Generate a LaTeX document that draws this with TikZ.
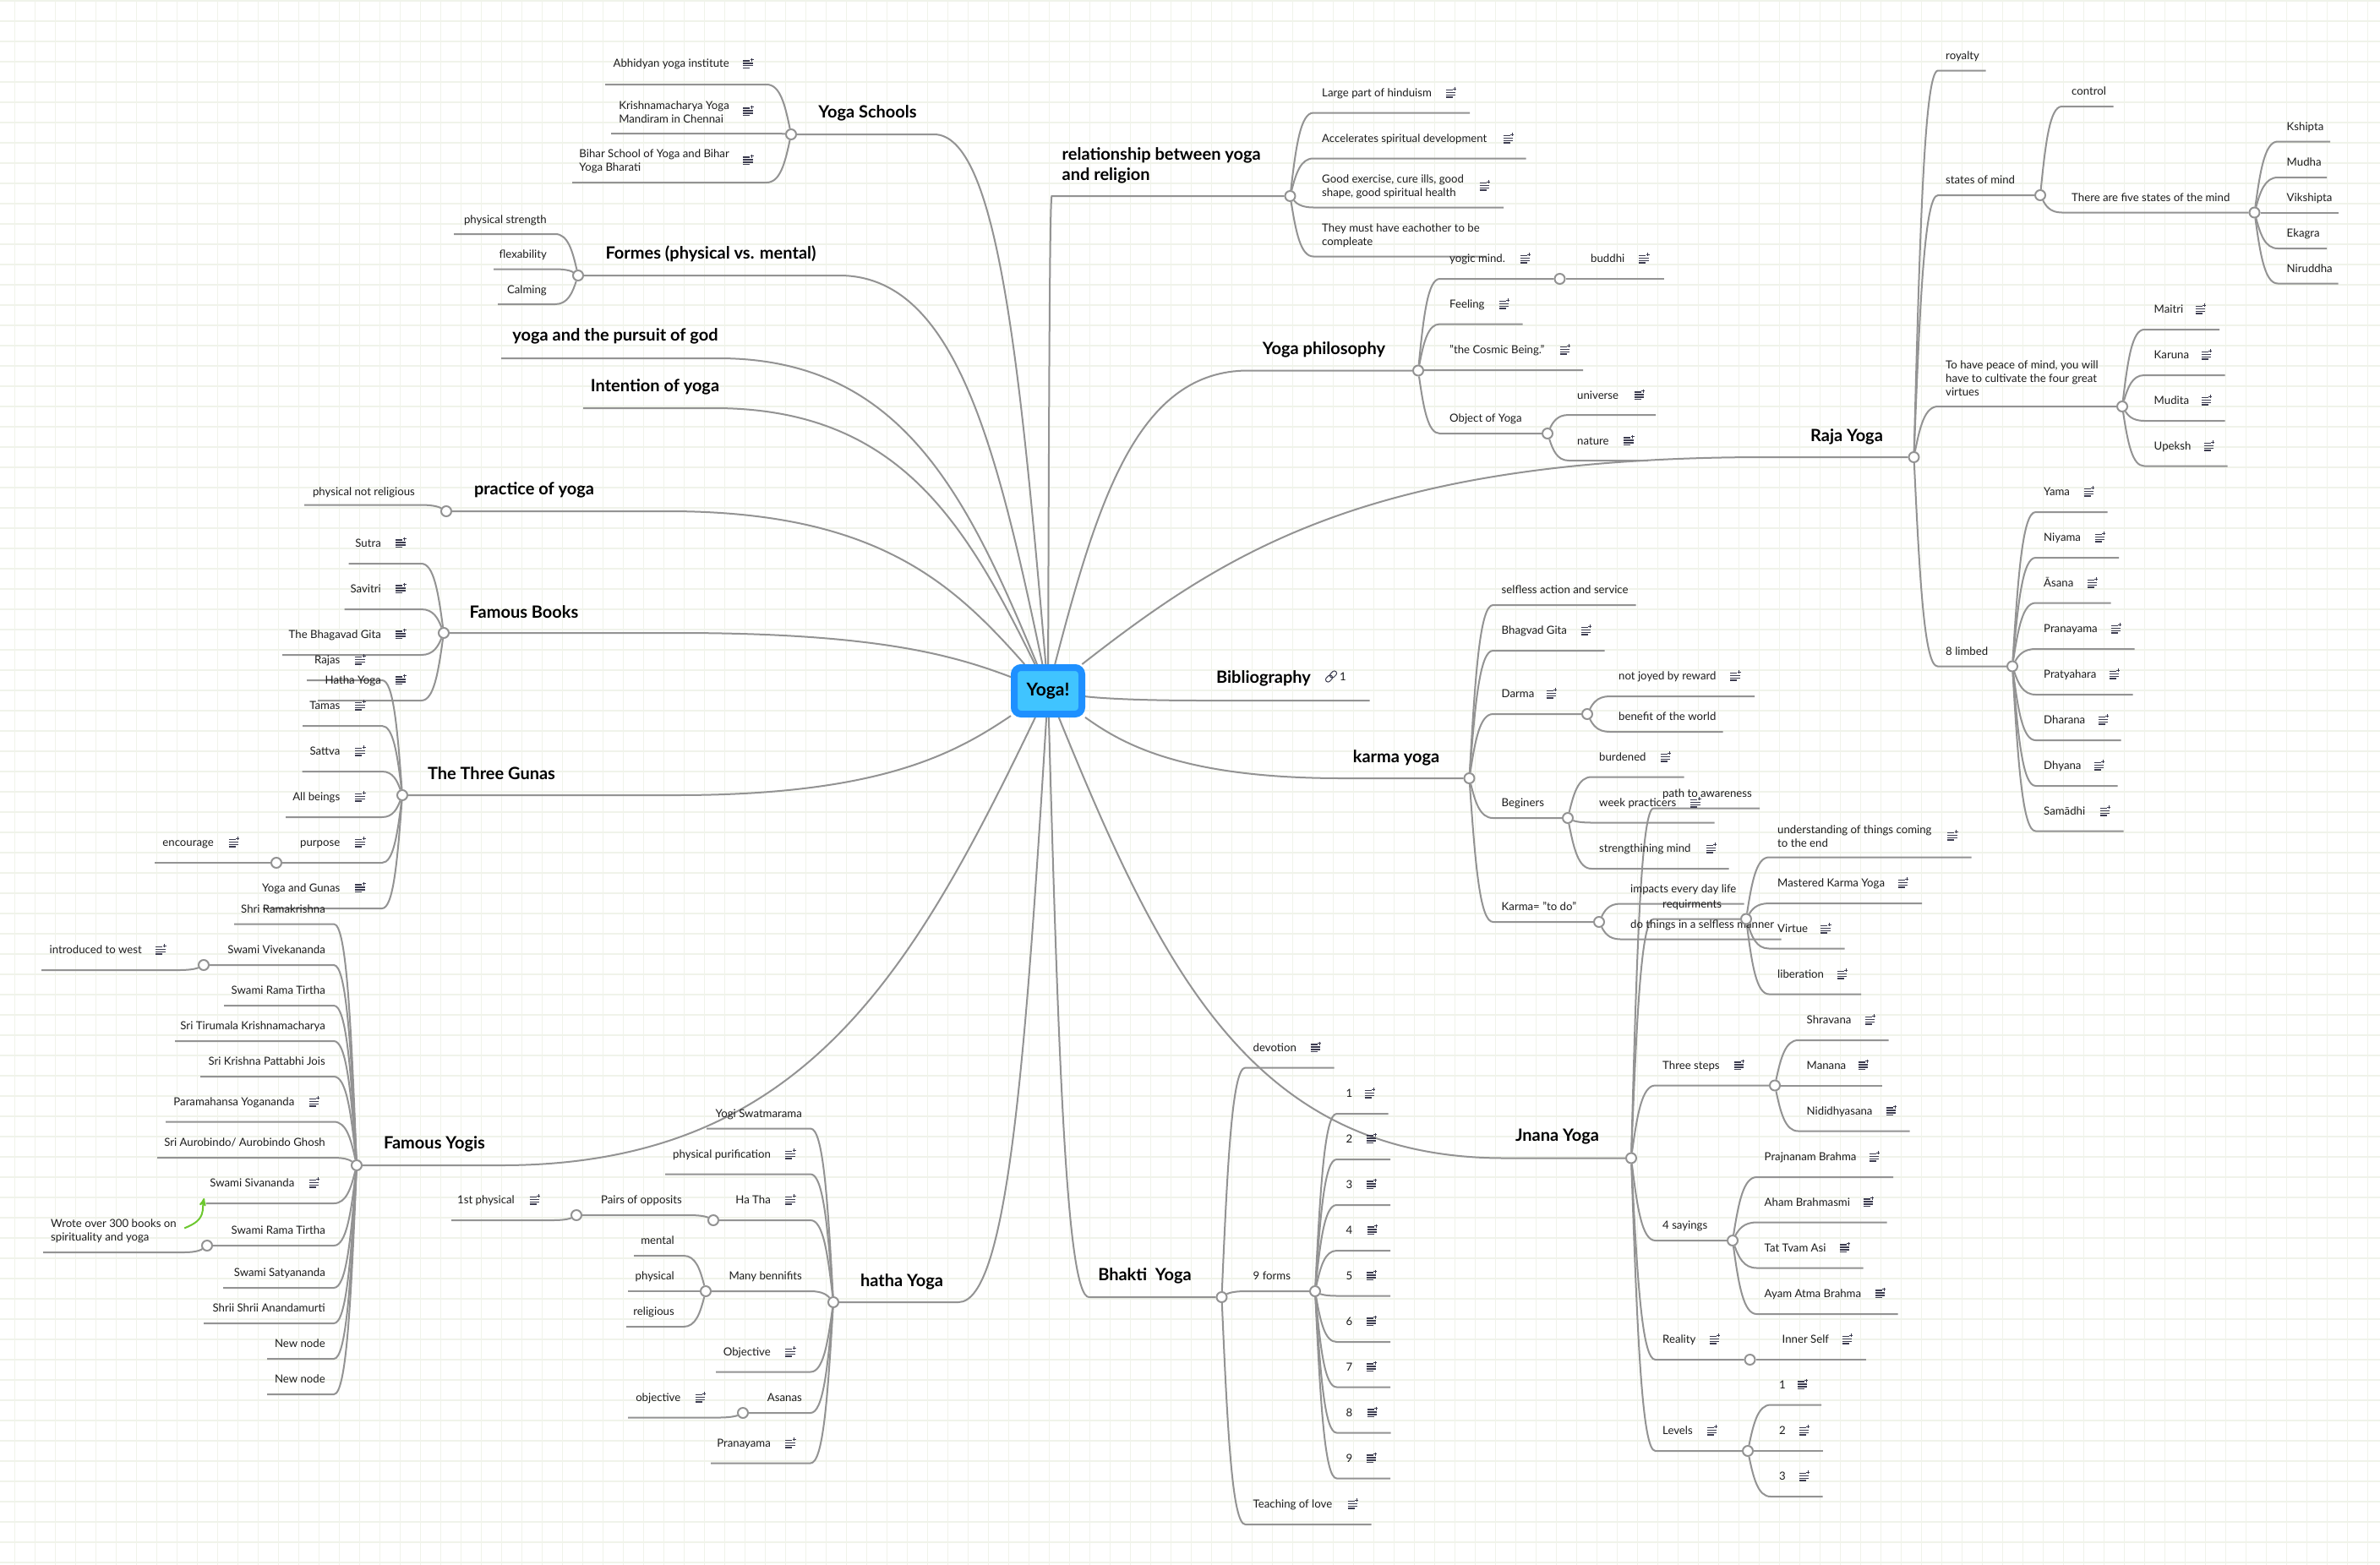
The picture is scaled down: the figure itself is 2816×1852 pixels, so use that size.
\documentclass[tikz,border=0pt]{standalone}
\usepackage{fontspec}
\setmainfont{Lato}
\usepackage{xcolor}
\usetikzlibrary{arrows}
\usetikzlibrary{calc}
\definecolor{wirecol}{HTML}{939393}
\definecolor{gridcol}{HTML}{F0F3EA}
\definecolor{inkcol}{HTML}{1C1C1C}
\definecolor{iconcol}{HTML}{3B3B4F}
\definecolor{rootfill}{HTML}{40C4FF}
\definecolor{rootline}{HTML}{1E90FF}
\definecolor{linkcol}{HTML}{6CC72E}
\pgfdeclarelayer{paper}
\pgfdeclarelayer{wires}
\pgfsetlayers{paper,wires,main}
\tikzset{
	root/.style={rectangle,rounded corners=8pt,draw=rootline,fill=rootfill,line width=8pt,minimum width=80pt,minimum height=55pt,font=\fontsize{21}{24}\selectfont\bfseries},
	head/.style={inner sep=0pt,align=left,text=black,yshift=-1.5pt,font=\fontsize{20}{24}\selectfont\bfseries},
	leaf/.style={inner sep=0pt,align=left,text=inkcol,font=\fontsize{13.2}{16}\selectfont,text height=11.5pt,text depth=1.5pt},
	block/.style={text height=,text depth=,yshift=-1.5pt},
	lleaf/.style={leaf,anchor=east},
	rleaf/.style={leaf,anchor=west},
	junction/.style={circle,draw=wirecol,fill=white,line width=2pt,inner sep=0pt,minimum size=12pt},
	wire/.style={draw=wirecol,line width=2pt,to path={
		let \p1=(\tikztostart),\p2=(\tikztotarget) in
		.. controls ({\x1+.25*(\x2-\x1)},{\y1+.6*(\y2-\y1)}) and ({\x1+.45*(\x2-\x1)},\y2) .. (\tikztotarget)}},
	noteicon/.pic={
		\draw [iconcol,line width=1.4pt] (-6,-3) -- (2,-3) (-6,0) -- (5.5,0) (-6,2.8) -- (5.5,2.8) (-6,5.6) -- (2,5.6);
		\draw [iconcol,line width=1.2pt] (2.7,-4.4) -- (6.7,-4.4) (4.7,-6.4) -- (4.7,-2.4);
	},
	linkicon/.pic={
		\draw [iconcol,line width=1pt,rotate=45,rounded corners=2.5pt] (-8,-2.8) rectangle (1,2.8) (-1,-2.8) rectangle (8,2.8);
	}
}
\begin{document}
\begin{tikzpicture}[x=1pt,y=-1pt,>=stealth']
	\useasboundingbox (0,0) rectangle (2816,1852);
	\begin{pgfonlayer}{paper}
		\fill [white] (0,0) rectangle (2816,1852);
		\draw [gridcol,line width=1.2pt,step=24pt,xshift=17.5pt,yshift=-1pt] (-24,1860) grid (2808,-24);
	\end{pgfonlayer}
	\node [root] (yoga) at (1240,817.5) {Yoga!};
	\node [head] (schools) at (1026.5,132) {Yoga Schools};
	\node [junction] (jschools) at (936,159) {};
	\node [lleaf] (abhidyan) at (863,75) {Abhidyan yoga institute}; \pic at (885,75) {noteicon};
	\node [lleaf,block] (krishnam) at (863,131) {Krishnamacharya Yoga\\Mandiram in Chennai}; \pic at (885,131) {noteicon};
	\node [lleaf,block] (bihar) at (863,189) {Bihar School of Yoga and Bihar\\Yoga Bharati}; \pic at (885,189) {noteicon};
	\node [head] (formes) at (841,299) {Formes (physical vs. mental)};
	\node [junction] (jformes) at (684,326) {};
	\node [lleaf] (strength) at (647,259) {physical strength};
	\node [lleaf] (flex) at (647,300.5) {flexability};
	\node [lleaf] (calming) at (647,342) {Calming};
	\node [head] (pursuit) at (728,396) {yoga and the pursuit of god};
	\node [head] (intention) at (775,456) {Intention of yoga};
	\node [head] (practice) at (632,578) {practice of yoga};
	\node [junction] (jpractice) at (528,605) {};
	\node [lleaf] (notrelig) at (491,581) {physical not religious};
	\node [head] (books) at (620,723) {Famous Books};
	\node [junction] (jbooks) at (525,749) {};
	\node [lleaf] (sutra) at (451,642) {Sutra}; \pic at (474,642) {noteicon};
	\node [lleaf] (savitri) at (451,696) {Savitri}; \pic at (474,696) {noteicon};
	\node [lleaf] (gita) at (451,750) {The Bhagavad Gita}; \pic at (474,750) {noteicon};
	\node [lleaf] (hathab) at (451,804) {Hatha Yoga}; \pic at (474,804) {noteicon};
	\node [head] (gunas) at (581.5,914) {The Three Gunas};
	\node [junction] (jgunas) at (476,941) {};
	\node [lleaf] (rajas) at (402.5,780.5) {Rajas}; \pic at (426,780.5) {noteicon};
	\node [lleaf] (tamas) at (402.5,834.5) {Tamas}; \pic at (426,834.5) {noteicon};
	\node [lleaf] (sattva) at (402.5,888.5) {Sattva}; \pic at (426,888.5) {noteicon};
	\node [lleaf] (beings) at (402.5,942.5) {All beings}; \pic at (426,942.5) {noteicon};
	\node [lleaf] (purpose) at (402.5,996.5) {purpose}; \pic at (426,996.5) {noteicon};
	\node [junction] (jpurpose) at (327,1021) {};
	\node [lleaf] (encourage) at (253,996.5) {encourage}; \pic at (276.5,996.5) {noteicon};
	\node [lleaf] (yguna) at (402.5,1050) {Yoga and Gunas}; \pic at (426,1050) {noteicon};
	\node [head] (yogis) at (514,1352) {Famous Yogis};
	\node [junction] (jyogis) at (422,1379) {};
	\node [lleaf] (ramak) at (385,1075.5) {Shri Ramakrishna};
	\node [lleaf] (vivek) at (385,1123.5) {Swami Vivekananda};
	\node [junction] (jvivek) at (241,1142) {};
	\node [lleaf] (west) at (168,1123.5) {introduced to west}; \pic at (190,1123.5) {noteicon};
	\node [lleaf] (rama) at (385,1171.5) {Swami Rama Tirtha};
	\node [lleaf] (tiru) at (385,1213.5) {Sri Tirumala Krishnamacharya};
	\node [lleaf] (jois) at (385,1255.5) {Sri Krishna Pattabhi Jois};
	\node [lleaf] (parama) at (348.5,1303.5) {Paramahansa Yogananda}; \pic at (371.5,1303.5) {noteicon};
	\node [lleaf] (auro) at (385,1351.5) {Sri Aurobindo/ Aurobindo Ghosh};
	\node [lleaf] (siva) at (348.5,1399.5) {Swami Sivananda}; \pic at (371.5,1399.5) {noteicon};
	\node [lleaf] (ramab) at (385,1455.5) {Swami Rama Tirtha};
	\node [junction] (jramab) at (245,1474) {};
	\node [rleaf,block] (wrote) at (60,1455.5) {Wrote over 300 books on\\spirituality and yoga};
	\node [lleaf] (satya) at (385,1505) {Swami Satyananda};
	\node [lleaf] (ananda) at (385,1547) {Shrii Shrii Anandamurti};
	\node [lleaf] (newa) at (385,1589) {New node};
	\node [lleaf] (newb) at (385,1631) {New node};
	\node [head] (hatha) at (1067,1515) {hatha Yoga};
	\node [junction] (jhatha) at (986,1541) {};
	\node [lleaf] (swat) at (949,1317) {Yogi Swatmarama};
	\node [lleaf] (purif) at (912,1365.5) {physical purification}; \pic at (935,1365.5) {noteicon};
	\node [lleaf] (hatht) at (912,1419.5) {Ha Tha}; \pic at (935,1419.5) {noteicon};
	\node [junction] (jhatht) at (844,1444) {};
	\node [lleaf] (pairs) at (807,1419.5) {Pairs of opposits};
	\node [junction] (jpairs) at (682,1438) {};
	\node [lleaf] (first) at (609,1419.5) {1st physical}; \pic at (632.5,1419.5) {noteicon};
	\node [lleaf] (bennif) at (949,1509.5) {Many bennifits};
	\node [junction] (jbennif) at (835,1528) {};
	\node [lleaf] (mental) at (798,1467.5) {mental};
	\node [lleaf] (physic) at (798,1509.5) {physical};
	\node [lleaf] (relig) at (798,1551.5) {religious};
	\node [lleaf] (object) at (912,1599.5) {Objective}; \pic at (935,1599.5) {noteicon};
	\node [lleaf] (asanas) at (949,1653.5) {Asanas};
	\node [junction] (jasanas) at (879,1672) {};
	\node [lleaf] (objb) at (805.5,1653.5) {objective}; \pic at (828.5,1653.5) {noteicon};
	\node [lleaf] (prana) at (912,1707.5) {Pranayama}; \pic at (935,1707.5) {noteicon};
	\node [head,anchor=west] (relat) at (1256.5,194.5) {relationship between yoga\\and religion};
	\node [junction] (jrelat) at (1526.5,232) {};
	\node [rleaf] (hindu) at (1564,109.5) {Large part of hinduism}; \pic at (1716.5,109.5) {noteicon};
	\node [rleaf] (accel) at (1564,163.5) {Accelerates spiritual development}; \pic at (1784.5,163.5) {noteicon};
	\node [rleaf,block] (exerc) at (1564,219.5) {Good exercise, cure ills, good\\shape, good spiritual health}; \pic at (1756.5,219.5) {noteicon};
	\node [rleaf,block] (must) at (1564,277.5) {They must have eachother to be\\compleate};
	\node [head] (philo) at (1566.5,412.5) {Yoga philosophy};
	\node [junction] (jphilo) at (1678,438.5) {};
	\node [rleaf] (yogic) at (1715,305.5) {yogic mind.}; \pic at (1804.5,305.5) {noteicon};
	\node [junction] (jyogic) at (1845.5,330) {};
	\node [rleaf] (buddhi) at (1882,305.5) {buddhi}; \pic at (1945,305.5) {noteicon};
	\node [rleaf] (feeling) at (1715,359.5) {Feeling}; \pic at (1779.5,359.5) {noteicon};
	\node [rleaf] (cosmic) at (1715,413.5) {"the Cosmic Being."}; \pic at (1851.5,413.5) {noteicon};
	\node [rleaf] (objyoga) at (1715,494.5) {Object of Yoga};
	\node [junction] (jobjyoga) at (1831,513) {};
	\node [rleaf] (universe) at (1866,467) {universe}; \pic at (1939.5,467) {noteicon};
	\node [rleaf] (nature) at (1866,521) {nature}; \pic at (1927,521) {noteicon};
	\node [head] (biblio) at (1495,801) {Bibliography};
	\pic at (1575,800.5) {linkicon};
	\node [leaf] (bibnum) at (1589,800.5) {1};
	\node [head] (karma) at (1652,895) {karma yoga};
	\node [junction] (jkarma) at (1738.5,921) {};
	\node [rleaf] (selfless) at (1776.5,697.5) {selfless action and service};
	\node [rleaf] (bhagvad) at (1776.5,745.5) {Bhagvad Gita}; \pic at (1876.5,745.5) {noteicon};
	\node [rleaf] (darma) at (1776.5,820.5) {Darma}; \pic at (1835.5,820.5) {noteicon};
	\node [junction] (jdarma) at (1878,845) {};
	\node [rleaf] (joyed) at (1915,799.5) {not joyed by reward}; \pic at (2053,799.5) {noteicon};
	\node [rleaf] (benefit) at (1915,847.5) {benefit of the world};
	\node [rleaf] (begin) at (1776.5,949.5) {Beginers};
	\node [junction] (jbegin) at (1855,968) {};
	\node [rleaf] (burden) at (1892,895.5) {burdened}; \pic at (1970.5,895.5) {noteicon};
	\node [rleaf] (week) at (1892,949.5) {week practicers}; \pic at (2006,949.5) {noteicon};
	\node [rleaf] (strengthm) at (1892,1003.5) {strengthining mind}; \pic at (2024.5,1003.5) {noteicon};
	\node [rleaf] (todo) at (1776.5,1072.5) {Karma= "to do"};
	\node [junction] (jtodo) at (1892,1091) {};
	\node [rleaf] (impacts) at (1929,1051.5) {impacts every day life};
	\node [rleaf] (dothings) at (1929,1093.5) {do things in a selfless manner};
	\node [head] (jnana) at (1842.5,1344) {Jnana Yoga};
	\node [junction] (jjnana) at (1930,1370.5) {};
	\node [rleaf] (path) at (1967,938.5) {path to awareness};
	\node [rleaf] (requir) at (1967,1069.5) {requirments};
	\node [junction] (jrequir) at (2066,1087.5) {};
	\node [rleaf,block] (underst) at (2103,988.5) {understanding of things coming\\to the end}; \pic at (2310,988.5) {noteicon};
	\node [rleaf] (mastered) at (2103,1044.5) {Mastered Karma Yoga}; \pic at (2251.5,1044.5) {noteicon};
	\node [rleaf] (virtue) at (2103,1098.5) {Virtue}; \pic at (2160,1098.5) {noteicon};
	\node [rleaf] (liberat) at (2103,1152.5) {liberation}; \pic at (2179.5,1152.5) {noteicon};
	\node [rleaf] (three) at (1967,1260) {Three steps}; \pic at (2057.5,1260) {noteicon};
	\node [junction] (jthree) at (2100,1284.5) {};
	\node [rleaf] (shrav) at (2137.5,1206.5) {Shravana}; \pic at (2212.5,1206.5) {noteicon};
	\node [rleaf] (manana) at (2137.5,1260) {Manana}; \pic at (2204.5,1260) {noteicon};
	\node [rleaf] (nidid) at (2137.5,1314) {Nididhyasana}; \pic at (2237.5,1314) {noteicon};
	\node [rleaf] (sayings) at (1967,1449) {4 sayings};
	\node [junction] (jsayings) at (2050,1468) {};
	\node [rleaf] (prajn) at (2087.5,1368.5) {Prajnanam Brahma}; \pic at (2217.5,1368.5) {noteicon};
	\node [rleaf] (aham) at (2087.5,1422) {Aham Brahmasmi}; \pic at (2210.5,1422) {noteicon};
	\node [rleaf] (tvam) at (2087.5,1476) {Tat Tvam Asi}; \pic at (2182.5,1476) {noteicon};
	\node [rleaf] (ayam) at (2087.5,1530) {Ayam Atma Brahma}; \pic at (2224.5,1530) {noteicon};
	\node [rleaf] (reality) at (1967,1584.5) {Reality}; \pic at (2028.5,1584.5) {noteicon};
	\node [junction] (jreality) at (2070.5,1609) {};
	\node [rleaf] (inner) at (2108.5,1584.5) {Inner Self}; \pic at (2185.5,1584.5) {noteicon};
	\node [rleaf] (levels) at (1967,1692.5) {Levels}; \pic at (2025.5,1692.5) {noteicon};
	\node [junction] (jlevels) at (2068,1717) {};
	\node [rleaf] (levela) at (2105,1638) {1}; \pic at (2132.5,1638) {noteicon};
	\node [rleaf] (levelb) at (2105,1692.5) {2}; \pic at (2134.5,1692.5) {noteicon};
	\node [rleaf] (levelc) at (2105,1746.5) {3}; \pic at (2134.5,1746.5) {noteicon};
	\node [head] (bhakti) at (1354.5,1508.5) {Bhakti\ \ Yoga};
	\node [junction] (jbhakti) at (1445.5,1535) {};
	\node [rleaf] (devot) at (1482.5,1239) {devotion}; \pic at (1556.5,1239) {noteicon};
	\node [rleaf] (forms) at (1482.5,1509) {9 forms};
	\node [junction] (jforms) at (1556,1528) {};
	\node [rleaf] (forma) at (1592.5,1293.5) {1}; \pic at (1620.5,1293.5) {noteicon};
	\node [rleaf] (formb) at (1592.5,1347) {2}; \pic at (1622.5,1347) {noteicon};
	\node [rleaf] (formc) at (1592.5,1401) {3}; \pic at (1622.5,1401) {noteicon};
	\node [rleaf] (formd) at (1592.5,1455) {4}; \pic at (1623.5,1455) {noteicon};
	\node [rleaf] (forme) at (1592.5,1509) {5}; \pic at (1622.5,1509) {noteicon};
	\node [rleaf] (formf) at (1592.5,1563) {6}; \pic at (1622.5,1563) {noteicon};
	\node [rleaf] (formg) at (1592.5,1617) {7}; \pic at (1622.5,1617) {noteicon};
	\node [rleaf] (formh) at (1592.5,1671) {8}; \pic at (1623.5,1671) {noteicon};
	\node [rleaf] (formi) at (1592.5,1725) {9}; \pic at (1622.5,1725) {noteicon};
	\node [rleaf] (teach) at (1482.5,1779.5) {Teaching of love}; \pic at (1600.5,1779.5) {noteicon};
	\node [head] (raja) at (2185,515) {Raja Yoga};
	\node [junction] (jraja) at (2264.5,541) {};
	\node [rleaf] (royal) at (2302,65.5) {royalty};
	\node [rleaf] (states) at (2302,212.5) {states of mind};
	\node [junction] (jstates) at (2414,231) {};
	\node [rleaf] (control) at (2451,107.5) {control};
	\node [rleaf] (five) at (2451,233.5) {There are five states of the mind};
	\node [junction] (jfive) at (2667.5,251.5) {};
	\node [rleaf] (kship) at (2705.5,149.5) {Kshipta};
	\node [rleaf] (mudha) at (2705.5,191.5) {Mudha};
	\node [rleaf] (viksh) at (2705.5,233.5) {Vikshipta};
	\node [rleaf] (ekagra) at (2705.5,275.5) {Ekagra};
	\node [rleaf] (nirud) at (2705.5,317.5) {Niruddha};
	\node [rleaf,block] (peace) at (2302,446.5) {To have peace of mind, you will\\have to cultivate the four great\\virtues};
	\node [junction] (jpeace) at (2511,481) {};
	\node [rleaf] (maitri) at (2548.5,365.5) {Maitri}; \pic at (2603.5,365.5) {noteicon};
	\node [rleaf] (karuna) at (2548.5,419.5) {Karuna}; \pic at (2610.5,419.5) {noteicon};
	\node [rleaf] (mudita) at (2548.5,473.5) {Mudita}; \pic at (2610.5,473.5) {noteicon};
	\node [rleaf] (upeksh) at (2548.5,527.5) {Upeksh}; \pic at (2613.5,527.5) {noteicon};
	\node [rleaf] (limbed) at (2302,770) {8 limbed};
	\node [junction] (jlimbed) at (2381,788.5) {};
	\node [rleaf] (yama) at (2418,581.5) {Yama}; \pic at (2471.5,581.5) {noteicon};
	\node [rleaf] (niyama) at (2418,635.5) {Niyama}; \pic at (2484.5,635.5) {noteicon};
	\node [rleaf] (asana) at (2418,689.5) {Āsana}; \pic at (2475.5,689.5) {noteicon};
	\node [rleaf] (pranay) at (2418,743.5) {Pranayama}; \pic at (2503.5,743.5) {noteicon};
	\node [rleaf] (pratya) at (2418,797.5) {Pratyahara}; \pic at (2501.5,797.5) {noteicon};
	\node [rleaf] (dharana) at (2418,851.5) {Dharana}; \pic at (2488.5,851.5) {noteicon};
	\node [rleaf] (dhyana) at (2418,905.5) {Dhyana}; \pic at (2483.5,905.5) {noteicon};
	\node [rleaf] (samadhi) at (2418,959.5) {Samādhi}; \pic at (2490.5,959.5) {noteicon};
	\begin{pgfonlayer}{wires}
		\draw [wire] (yoga) to (1105,159) -- (jschools);
		\draw [wire] (jschools) to (907,100) -- (716,100) coordinate (abhidyanend);
		\draw [wire] (jschools) to (907,158) -- (723,158) coordinate (krishnamend);
		\draw [wire] (jschools) to (907,216) -- (677,216) coordinate (biharend);
		\draw [wire] (yoga) to (993,326) -- (jformes);
		\draw [wire] (jformes) to (657,277) -- (537,277) coordinate (strengthend);
		\draw [wire] (jformes) to (657,318.5) -- (584,318.5) coordinate (flexend);
		\draw [wire] (jformes) to (657,360) -- (589,360) coordinate (calmingend);
		\draw [wire] (yoga) to (850,424) -- (593,424) coordinate (pursuitend);
		\draw [wire] (yoga) to (845,483) -- (690,483) coordinate (intentionend);
		\draw [wire] (yoga) to (790,605) -- (jpractice);
		\draw [wire] (jpractice) to (498,597.5) -- (360,597.5) coordinate (notreligend);
		\draw [wire] (yoga) to (800,749) -- (jbooks);
		\draw [wire] (jbooks) to (498.5,667) -- (412.5,667) coordinate (sutraend);
		\draw [wire] (jbooks) to (498.5,721) -- (407.5,721) coordinate (savitriend);
		\draw [wire] (jbooks) to (498.5,775) -- (334,775) coordinate (gitaend);
		\draw [wire] (jbooks) to (498.5,829) -- (376,829) coordinate (hathabend);
		\draw [wire] (yoga) to (800,941) -- (jgunas);
		\draw [wire] (jgunas) to (452,805) -- (363,805) coordinate (rajasend);
		\draw [wire] (jgunas) to (452,859) -- (358,859) coordinate (tamasend);
		\draw [wire] (jgunas) to (452,913) -- (357.5,913) coordinate (sattvaend);
		\draw [wire] (jgunas) to (452,967) -- (338,967) coordinate (beingsend);
		\draw [wire] (jgunas) to (452,1021) -- (jpurpose);
		\draw [wire] (jpurpose) -- (183,1021) coordinate (encourageend);
		\draw [wire] (jgunas) to (452,1075) -- (311,1075) coordinate (ygunaend);
		\draw [wire] (yoga) to (593,1379) -- (jyogis);
		\draw [wire] (jyogis) to (395,1093.5) -- (277,1093.5) coordinate (ramakend);
		\draw [wire] (jyogis) to (395,1142) -- (jvivek);
		\draw [wire] (jvivek) to (212,1148) -- (49,1148) coordinate (westend);
		\draw [wire] (jyogis) to (395,1190) -- (265,1190) coordinate (ramaend);
		\draw [wire] (jyogis) to (395,1232) -- (207,1232) coordinate (tiruend);
		\draw [wire] (jyogis) to (395,1274) -- (237,1274) coordinate (joisend);
		\draw [wire] (jyogis) to (395,1327.5) -- (196,1327.5) coordinate (paramaend);
		\draw [wire] (jyogis) to (395,1370) -- (186,1370) coordinate (auroend);
		\draw [wire] (jyogis) to (395,1424) -- (243.5,1424) coordinate (sivaend);
		\draw [wire] (jyogis) to (395,1474) -- (jramab);
		\draw [wire] (jramab) to (218,1482) -- (51,1482) coordinate (wroteend);
		\draw [wire] (jyogis) to (395,1524) -- (264,1524) coordinate (satyaend);
		\draw [wire] (jyogis) to (395,1566) -- (241,1566) coordinate (anandaend);
		\draw [wire] (jyogis) to (395,1608) -- (316,1608) coordinate (newaend);
		\draw [wire] (jyogis) to (395,1650) -- (316,1650) coordinate (newbend);
		\draw [wire] (yoga) to (1134,1541) -- (jhatha);
		\draw [wire] (jhatha) to (959,1335.5) -- (836,1335.5) coordinate (swatend);
		\draw [wire] (jhatha) to (959,1389.5) -- (787,1389.5) coordinate (purifend);
		\draw [wire] (jhatha) to (959,1444) -- (jhatht);
		\draw [wire] (jhatht) to (816,1438) -- (jpairs);
		\draw [wire] (jpairs) to (655,1444) -- (534,1444) coordinate (firstend);
		\draw [wire] (jhatha) to (959,1528) -- (jbennif);
		\draw [wire] (jbennif) to (809,1486) -- (750,1486) coordinate (mentalend);
		\draw [wire] (jbennif) -- (742.5,1528) coordinate (physicend);
		\draw [wire] (jbennif) to (809,1570) -- (741,1570) coordinate (religend);
		\draw [wire] (jhatha) to (959,1623.5) -- (847,1623.5) coordinate (objectend);
		\draw [wire] (jhatha) to (959,1672) -- (jasanas);
		\draw [wire] (jasanas) to (850.5,1677.5) -- (743,1677.5) coordinate (objbend);
		\draw [wire] (jhatha) to (959,1731.5) -- (841,1731.5) coordinate (pranaend);
		\draw [wire] (yoga) to (1244.5,232) -- (jrelat);
		\draw [wire] (jrelat) to (1554,133.5) -- (1739,133.5) coordinate (hinduend);
		\draw [wire] (jrelat) to (1554,187.5) -- (1805.5,187.5) coordinate (accelend);
		\draw [wire] (jrelat) to (1554,245.5) -- (1779,245.5) coordinate (exercend);
		\draw [wire] (jrelat) to (1554,303.5) -- (1759,303.5) coordinate (mustend);
		\draw [wire] (yoga) to (1477,438.5) -- (jphilo);
		\draw [wire] (jphilo) to (1703.5,330) -- (jyogic);
		\draw [wire] (jyogic) -- (1968.5,330) coordinate (buddhiend);
		\draw [wire] (jphilo) to (1703.5,383.5) -- (1801.5,383.5) coordinate (feelingend);
		\draw [wire] (jphilo) to (1703.5,438) -- (1873,438) coordinate (cosmicend);
		\draw [wire] (jphilo) to (1703.5,513) -- (jobjyoga);
		\draw [wire] (jobjyoga) to (1856,491) -- (1959,491) coordinate (universeend);
		\draw [wire] (jobjyoga) to (1856,545) -- (1950,545) coordinate (natureend);
		\draw [wire] (yoga) to (1423,829) -- (1620.5,829) coordinate (biblioend);
		\draw [wire] (yoga) to (1588,921) -- (jkarma);
		\draw [wire] (jkarma) to (1766.5,716) -- (1935.5,716) coordinate (selflessend);
		\draw [wire] (jkarma) to (1766.5,770) -- (1898.5,770) coordinate (bhagvadend);
		\draw [wire] (jkarma) to (1766.5,845) -- (jdarma);
		\draw [wire] (jdarma) to (1904.5,824) -- (2076,824) coordinate (joyedend);
		\draw [wire] (jdarma) to (1904.5,866) -- (2038.5,866) coordinate (benefitend);
		\draw [wire] (jkarma) to (1766.5,968) -- (jbegin);
		\draw [wire] (jbegin) to (1883,919.5) -- (1992.5,919.5) coordinate (burdenend);
		\draw [wire] (jbegin) to (1883,973.5) -- (2028.5,973.5) coordinate (weekend);
		\draw [wire] (jbegin) to (1883,1028) -- (2045.5,1028) coordinate (strengthmend);
		\draw [wire] (jkarma) to (1766.5,1091) -- (jtodo);
		\draw [wire] (jtodo) to (1917,1069.5) -- (2063.5,1069.5) coordinate (impactsend);
		\draw [wire] (jtodo) to (1917,1111.5) -- (2107.5,1111.5) coordinate (dothingsend);
		\draw [wire] (yoga) to (1780,1370.5) -- (jjnana);
		\draw [wire] (jjnana) to (1956.5,956.5) -- (2082,956.5) coordinate (pathend);
		\draw [wire] (jjnana) to (1956.5,1087.5) -- (jrequir);
		\draw [wire] (jrequir) to (2093,1014.5) -- (2332.5,1014.5) coordinate (understend);
		\draw [wire] (jrequir) to (2093,1069) -- (2274,1069) coordinate (masteredend);
		\draw [wire] (jrequir) to (2093,1122.5) -- (2182.5,1122.5) coordinate (virtueend);
		\draw [wire] (jrequir) to (2093,1176.5) -- (2202,1176.5) coordinate (liberatend);
		\draw [wire] (jjnana) to (1958.5,1284.5) -- (jthree);
		\draw [wire] (jthree) to (2127.5,1231) -- (2234.5,1231) coordinate (shravend);
		\draw [wire] (jthree) -- (2226.5,1284.5) coordinate (mananaend);
		\draw [wire] (jthree) to (2127.5,1338.5) -- (2259.5,1338.5) coordinate (nididend);
		\draw [wire] (jjnana) to (1958.5,1468) -- (jsayings);
		\draw [wire] (jsayings) to (2078.5,1393) -- (2240,1393) coordinate (prajnend);
		\draw [wire] (jsayings) to (2078.5,1446.5) -- (2232.5,1446.5) coordinate (ahamend);
		\draw [wire] (jsayings) to (2078.5,1500.5) -- (2204.5,1500.5) coordinate (tvamend);
		\draw [wire] (jsayings) to (2078.5,1555) -- (2245.5,1555) coordinate (ayamend);
		\draw [wire] (jjnana) to (1958.5,1609) -- (jreality);
		\draw [wire] (jreality) -- (2207.5,1609) coordinate (innerend);
		\draw [wire] (jjnana) to (1958.5,1717) -- (jlevels);
		\draw [wire] (jlevels) to (2095,1662.5) -- (2155,1662.5) coordinate (levelaend);
		\draw [wire] (jlevels) -- (2156.5,1717) coordinate (levelbend);
		\draw [wire] (jlevels) to (2095,1771) -- (2156.5,1771) coordinate (levelcend);
		\draw [wire] (yoga) to (1288.5,1535) -- (jbhakti);
		\draw [wire] (jbhakti) to (1473.5,1263.5) -- (1578.5,1263.5) coordinate (devotend);
		\draw [wire] (jbhakti) to (1473.5,1528) -- (jforms);
		\draw [wire] (jforms) to (1581.5,1318) -- (1642.5,1318) coordinate (formaend);
		\draw [wire] (jforms) to (1581.5,1372) -- (1645,1372) coordinate (formbend);
		\draw [wire] (jforms) to (1581.5,1426) -- (1645,1426) coordinate (formcend);
		\draw [wire] (jforms) to (1581.5,1480) -- (1645,1480) coordinate (formdend);
		\draw [wire] (jforms) to (1581.5,1533.5) -- (1645,1533.5) coordinate (formeend);
		\draw [wire] (jforms) to (1581.5,1588) -- (1645,1588) coordinate (formfend);
		\draw [wire] (jforms) to (1581.5,1641.5) -- (1645,1641.5) coordinate (formgend);
		\draw [wire] (jforms) to (1581.5,1695.5) -- (1645.5,1695.5) coordinate (formhend);
		\draw [wire] (jforms) to (1581.5,1749.5) -- (1645,1749.5) coordinate (formiend);
		\draw [wire] (jbhakti) to (1473.5,1804) -- (1622.5,1804) coordinate (teachend);
		\draw [wire] (yoga) to (2090,541) -- (jraja);
		\draw [wire] (jraja) to (2293,83.5) -- (2349.5,83.5) coordinate (royalend);
		\draw [wire] (jraja) to (2293,231) -- (jstates);
		\draw [wire] (jstates) to (2439.5,126) -- (2500.5,126) coordinate (controlend);
		\draw [wire] (jstates) to (2439.5,251.5) -- (jfive);
		\draw [wire] (jfive) to (2695,167.5) -- (2757,167.5) coordinate (kshipend);
		\draw [wire] (jfive) to (2695,210) -- (2753,210) coordinate (mudhaend);
		\draw [wire] (jfive) -- (2766.5,251.5) coordinate (vikshend);
		\draw [wire] (jfive) to (2695,294) -- (2753,294) coordinate (ekagraend);
		\draw [wire] (jfive) to (2695,335.5) -- (2766.5,335.5) coordinate (nirudend);
		\draw [wire] (jraja) to (2293,481) -- (jpeace);
		\draw [wire] (jpeace) to (2537,390) -- (2626,390) coordinate (maitriend);
		\draw [wire] (jpeace) to (2537,444) -- (2632.5,444) coordinate (karunaend);
		\draw [wire] (jpeace) to (2537,498) -- (2632.5,498) coordinate (muditaend);
		\draw [wire] (jpeace) to (2537,551.5) -- (2635.5,551.5) coordinate (upekshend);
		\draw [wire] (jraja) to (2292.5,788.5) -- (jlimbed);
		\draw [wire] (jlimbed) to (2408.5,606) -- (2493.5,606) coordinate (yamaend);
		\draw [wire] (jlimbed) to (2408.5,660) -- (2507,660) coordinate (niyamaend);
		\draw [wire] (jlimbed) to (2408.5,713.5) -- (2497.5,713.5) coordinate (asanaend);
		\draw [wire] (jlimbed) to (2408.5,768) -- (2525.5,768) coordinate (pranayend);
		\draw [wire] (jlimbed) to (2408.5,822) -- (2523.5,822) coordinate (pratyaend);
		\draw [wire] (jlimbed) to (2408.5,876) -- (2509.5,876) coordinate (dharanaend);
		\draw [wire] (jlimbed) to (2408.5,930) -- (2505.5,930) coordinate (dhyanaend);
		\draw [wire] (jlimbed) to (2408.5,983.5) -- (2512.5,983.5) coordinate (samadhiend);
	\end{pgfonlayer}
	\draw [->,linkcol,line width=2pt,shorten <=10pt] (wrote.east) .. controls +(36,-14) and +(-3,14) .. ($(sivaend)+(-2,-6)$);
\end{tikzpicture}
\end{document}
